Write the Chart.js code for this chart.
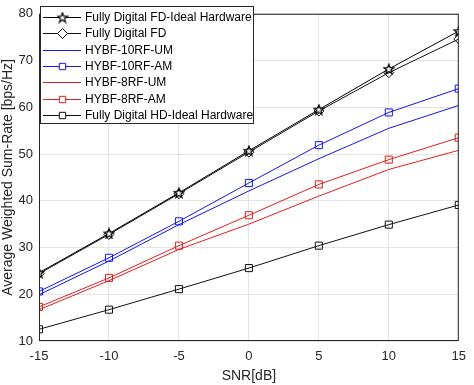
<!DOCTYPE html>
<html>
<head>
<meta charset="utf-8">
<script src="https://cdn.jsdelivr.net/npm/chart.js@4.4.0/dist/chart.umd.min.js"></script>
<style>
  html, body { margin: 0; padding: 0; background: #fff; }
  #wrap { width: 474px; height: 385px; }
</style>
</head>
<body>
<div id="wrap"><canvas id="rate"></canvas></div>
<script>
const snr = [-15, -10, -5, 0, 5, 10, 15]
const yTicks = [10, 20, 30, 40, 50, 60, 70, 80]

const fdIdeal = [24.6, 33.0, 41.7, 50.7, 59.5, 68.2, 76.3]
const fdReal = [24.4, 32.8, 41.5, 50.4, 59.2, 67.4, 74.6]
const hybf10um = [19.9, 27.1, 34.9, 42.1, 49.0, 55.5, 60.4]
const hybf10am = [20.6, 27.8, 35.6, 43.8, 51.9, 58.9, 64.0]
const hybf8um = [16.7, 22.9, 29.6, 35.0, 41.0, 46.7, 50.8]
const hybf8am = [17.3, 23.5, 30.4, 36.9, 43.5, 48.8, 53.5]
const hdIdeal = [12.5, 16.7, 21.1, 25.6, 30.4, 34.9, 39.1]

const blue = 'rgb(20,20,240)'
const red = 'rgb(225,30,30)'
const ink = '#262626'

// hollow pentagram marker, MATLAB style
const starMarker = (() => {
  const c = document.createElement('canvas')
  c.width = 12; c.height = 12
  const g = c.getContext('2d')
  g.beginPath()
  for (let i = 0; i < 10; i++) {
    const r = i % 2 ? 2.1 : 5.2
    const a = -Math.PI / 2 + i * Math.PI / 5
    const px = 6 + r * Math.cos(a), py = 6.4 + r * Math.sin(a)
    i ? g.lineTo(px, py) : g.moveTo(px, py)
  }
  g.closePath()
  g.fillStyle = '#fff'
  g.fill()
  g.strokeStyle = '#000'
  g.lineWidth = 1.2
  g.stroke()
  return c
})()

const mk = (label, data, color, style, radius) => ({
  label,
  data: snr.map((x, i) => ({ x, y: data[i] })),
  borderColor: color,
  backgroundColor: 'rgba(255,255,255,0)',
  pointBorderColor: color,
  pointBackgroundColor: 'rgba(255,255,255,0)',
  pointStyle: style,
  pointRadius: radius,
  pointBorderWidth: 1,
  borderWidth: 1,
  tension: 0
})

const sets = [
  mk('Fully Digital FD-Ideal Hardware', fdIdeal, '#000', starMarker, 6),
  mk('Fully Digital FD', fdReal, '#111', 'rectRot', 5),
  mk('HYBF-10RF-UM', hybf10um, blue, false, 0),
  mk('HYBF-10RF-AM', hybf10am, blue, 'rect', 5),
  mk('HYBF-8RF-UM', hybf8um, red, false, 0),
  mk('HYBF-8RF-AM', hybf8am, red, 'rect', 5),
  mk('Fully Digital HD-Ideal Hardware', hdIdeal, '#111', 'rect', 5)
]

// MATLAB-like legend box inside the axes, plus the axes frame
const boxLegend = {
  id: 'boxLegend',
  afterDatasetsDraw(chart) {
    const { ctx, chartArea: a } = chart
    ctx.save()
    ctx.strokeStyle = ink
    ctx.lineWidth = 1
    ctx.strokeRect(a.left + 0.5, a.top + 0.5, a.right - a.left - 1, a.bottom - a.top - 1)

    const bx = 40.5, by = 6.5, bw = 213, bh = 117
    ctx.fillStyle = '#fff'
    ctx.fillRect(bx, by, bw, bh)
    ctx.strokeStyle = ink
    ctx.strokeRect(bx, by, bw, bh)
    ctx.font = '12px "Liberation Sans", Arial, sans-serif'
    ctx.textBaseline = 'middle'
    chart.data.datasets.forEach((ds, i) => {
      const y = Math.round(17 + i * 16.3) + 0.5
      ctx.strokeStyle = ds.borderColor
      ctx.lineWidth = 1
      ctx.beginPath()
      ctx.moveTo(43, y)
      ctx.lineTo(81, y)
      ctx.stroke()
      if (ds.pointStyle) {
        ctx.fillStyle = '#fff'
        ctx.strokeStyle = ds.borderColor
        Chart.helpers.drawPoint(ctx, {
          pointStyle: ds.pointStyle,
          radius: ds.pointStyle === 'rect' ? 4.5 : ds.pointRadius,
          borderWidth: 1
        }, 62.5, y)
      }
      ctx.fillStyle = '#000'
      ctx.fillText(ds.label, 85, y)
    })
    ctx.restore()
  }
}

new Chart(document.getElementById('rate'), {
  type: 'line',
  data: { datasets: sets },
  plugins: [boxLegend],
  options: {
    responsive: true,
    maintainAspectRatio: false,
    animation: false,
    layout: { padding: { top: 5, right: 9, left: 0, bottom: 0 } },
    plugins: { legend: { display: false }, tooltip: { enabled: false } },
    scales: {
      x: {
        type: 'linear',
        min: -15,
        max: 15,
        afterFit: s => { s.height = 44 },
        afterBuildTicks: s => { s.ticks = snr.map(v => ({ value: v })) },
        grid: { color: '#e4e4e4', drawTicks: false },
        border: { display: false },
        ticks: { color: ink, padding: 8, font: { size: 13, family: '"Liberation Sans", Arial' }, maxRotation: 0 },
        title: { display: true, text: 'SNR[dB]', color: ink, padding: { top: 2, bottom: 0 }, font: { size: 14, family: '"Liberation Sans", Arial' } }
      },
      y: {
        min: 10,
        max: 80,
        afterFit: s => { s.width = 39 },
        afterBuildTicks: s => { s.ticks = yTicks.map(v => ({ value: v })) },
        grid: { color: '#e4e4e4', drawTicks: false },
        border: { display: false },
        ticks: { color: ink, padding: 6, font: { size: 13, family: '"Liberation Sans", Arial' } },
        title: { display: true, text: 'Average Weighted Sum-Rate [bps/Hz]', color: ink, padding: { top: 0, bottom: 2 }, font: { size: 14, family: '"Liberation Sans", Arial' } }
      }
    }
  }
})
</script>
</body>
</html>
